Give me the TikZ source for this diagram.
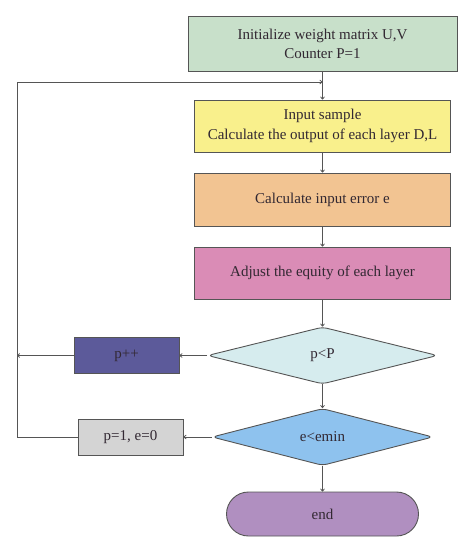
\documentclass[tikz,border=0pt]{standalone}
\usepackage{fontspec}
\setmainfont{Liberation Serif}
\usetikzlibrary{shapes.geometric,shapes.misc,arrows.meta}
\definecolor{cgreen}{RGB}{200,224,202}
\definecolor{cyellow}{RGB}{249,240,140}
\definecolor{corange}{RGB}{242,196,146}
\definecolor{cpink}{RGB}{218,140,182}
\definecolor{ccyan}{RGB}{214,236,238}
\definecolor{cblue}{RGB}{142,194,238}
\definecolor{cpurple}{RGB}{92,90,154}
\definecolor{cgray}{RGB}{212,212,212}
\definecolor{cend}{RGB}{176,143,192}
\definecolor{cline}{RGB}{85,85,85}
\definecolor{ctext}{RGB}{50,40,50}
\begin{document}
\begin{tikzpicture}[x=1pt,y=-1pt,
  every node/.style={font=\fontsize{15}{19.5}\selectfont, text=ctext, align=center},
  box/.style={draw=cline, line width=0.9pt, rectangle, inner sep=0pt},
  dec/.style={draw=cline, line width=0.9pt, diamond, inner sep=0pt, rounded corners=5pt},
  conn/.style={draw=cline, line width=0.8pt},
  arr/.style={conn, -{To[length=3pt,width=4.5pt]}}]
\useasboundingbox (0,0) rectangle (474,553);
\node[box, fill=cgreen, minimum width=269pt, minimum height=55pt] (init) at (322.5,44) {Initialize weight matrix U,V\\Counter P=1};
\node[box, fill=cyellow, minimum width=256pt, minimum height=52pt] (inp) at (322.5,126) {Input sample\\Calculate the output of each layer D,L};
\node[box, fill=corange, minimum width=256pt, minimum height=53pt] (err) at (322.5,199.5) {Calculate input error e};
\node[box, fill=cpink, minimum width=256pt, minimum height=52pt] (adj) at (322.5,273) {Adjust the equity of each layer};
\node[dec, fill=ccyan, minimum width=230pt, minimum height=57pt] (d1) at (322.5,355.5) {p\textless P};
\node[box, fill=cpurple, minimum width=105pt, minimum height=36pt] (pp) at (126.5,355.5) {p++};
\node[dec, fill=cblue, minimum width=221pt, minimum height=57pt] (d2) at (322.5,437) {e\textless emin};
\node[box, fill=cgray, minimum width=105pt, minimum height=36pt] (reset) at (130.5,437) {p=1, e=0};
\node[draw=cline, line width=0.9pt, fill=cend, rounded rectangle, inner sep=0pt, minimum width=192pt, minimum height=44pt] (end) at (322.5,514) {end};
\coordinate (top) at (17,82);
\coordinate (bot) at (17,437);
\coordinate (mid) at (17,355.5);
\coordinate (join) at (322.5,82);
\draw[arr] (init.south) -- (inp.north);
\draw[arr] (reset.west) -- (bot) -- (top) -- (join);
\draw[arr] (inp.south) -- (err.north);
\draw[arr] (err.south) -- (adj.north);
\draw[arr] (adj.south) -- (d1.north);
\draw[arr] (d1.west) -- (pp.east);
\draw[arr] (pp.west) -- (mid);
\draw[arr] (d1.south) -- (d2.north);
\draw[arr] (d2.west) -- (reset.east);
\draw[arr] (d2.south) -- (end.north);
\end{tikzpicture}
\end{document}
